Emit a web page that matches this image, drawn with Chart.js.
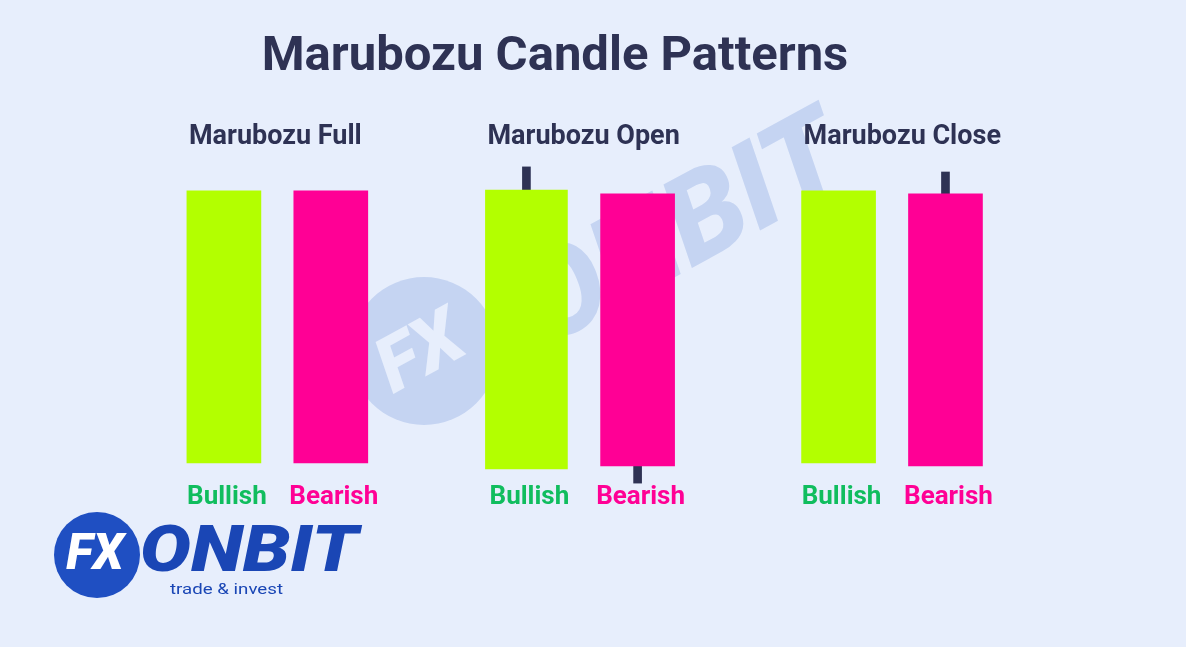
<!DOCTYPE html>
<html>
<head>
<meta charset="utf-8">
<script src="https://cdn.jsdelivr.net/npm/chart.js@4"></script>
<style>
  html, body { margin: 0; padding: 0; background: #e7eefc; }
  #wrap { width: 1186px; height: 647px; position: relative; }
</style>
</head>
<body>
<div id="wrap"><canvas id="candlec"></canvas></div>
<script>
// Data

var candleNames = ["Full Bullish", "Full Bearish", "Open Bullish", "Open Bearish", "Close Bullish", "Close Bearish"];
var candleLabels = ["Bullish", "Bearish", "Bullish", "Bearish", "Bullish", "Bearish"];
var groupTitles = ["Marubozu Full", "Marubozu Open", "Marubozu Close"];
var positions = [1, 2, 3.83, 4.87, 6.75, 7.75];
var opens  = [9, 99.7, 7, 98.7, 9, 98.7];
var highs  = [99.7, 99.7, 107.7, 98.7, 99.7, 106];
var lows   = [9, 9, 7, 2.3, 9, 8];
var closes = [99.7, 9, 100, 8, 99.7, 8];
var bodyWidths = [74, 74, 82, 74, 74, 74];

var bullColor = "#b3ff00";
var bearColor = "#ff0095";
var wickColor = "#2e3254";
var textColor = "#2e3254";

// Datasets

var datasets = [];

candleNames.forEach(function(name, i) {
	var top = Math.max(opens[i], closes[i]);
	var bottom = Math.min(opens[i], closes[i]);
	var wicks = [];
	if (highs[i] > top) wicks.push({x: positions[i], y: [top, highs[i]]});
	if (lows[i] < bottom) wicks.push({x: positions[i], y: [lows[i], bottom]});
	if (wicks.length) {
		datasets.push({
			label: name + " wick",
			data: wicks,
			backgroundColor: wickColor,
			barThickness: 8,
			order: 2
		});
	}
	datasets.push({
		label: name,
		data: [{x: positions[i], y: [bottom, top]}],
		backgroundColor: closes[i] >= opens[i] ? bullColor : bearColor,
		barThickness: bodyWidths[i],
		order: 1
	});
});

// fit a text into a given width
function fitText(ctx, text, x, y, width) {
	var w = ctx.measureText(text).width;
	ctx.save();
	ctx.translate(x, y);
	ctx.scale(width / w, 1);
	ctx.fillText(text, 0, 0);
	ctx.restore();
}

// Watermark + texts

var decor = {
	id: "decor",
	beforeDatasetsDraw: function(chart) {
		var ctx = chart.ctx;
		ctx.save();
		ctx.fillStyle = "#c5d4f2";
		ctx.beginPath();
		ctx.arc(424, 351, 74, 0, Math.PI * 2);
		ctx.fill();
		ctx.translate(424, 351);
		ctx.rotate(-0.5);
		ctx.fillStyle = "#e7eefc";
		ctx.font = "italic 900 76px Roboto";
		ctx.textAlign = "center";
		ctx.textBaseline = "middle";
		ctx.fillText("FX", -4, 4);
		ctx.fillStyle = "#c5d4f2";
		ctx.textAlign = "left";
		ctx.font = "italic 900 122px Roboto";
		ctx.fillText("ONBIT", 110, 25);
		ctx.restore();
	},
	afterDatasetsDraw: function(chart) {
		var ctx = chart.ctx;
		var x = chart.scales.x;
		ctx.save();
		ctx.textAlign = "center";
		ctx.textBaseline = "middle";

		ctx.fillStyle = textColor;
		ctx.font = "bold 49px Roboto";
		ctx.fillText("Marubozu Candle Patterns", 555, 58);

		ctx.font = "bold 27px Roboto";
		ctx.textAlign = "left";
		groupTitles.forEach(function(t, g) {
			var i = g * 2;
			ctx.fillText(t, x.getPixelForValue(positions[i]) - bodyWidths[i] / 2 + 2, 137);
		});

		ctx.textAlign = "center";
		ctx.font = "bold 26px Roboto";
		candleLabels.forEach(function(t, i) {
			ctx.fillStyle = closes[i] >= opens[i] ? "#10bd5e" : bearColor;
			ctx.fillText(t, x.getPixelForValue(positions[i]) + 3, 497);
		});

		// logo
		ctx.fillStyle = "#1f4fc2";
		ctx.beginPath();
		ctx.arc(97, 555, 43, 0, Math.PI * 2);
		ctx.fill();
		ctx.fillStyle = "#ffffff";
		ctx.font = "italic 900 50px Roboto";
		ctx.fillText("FX", 95, 556);
		ctx.fillStyle = "#1a46b5";
		ctx.textAlign = "left";
		ctx.font = "italic 900 64px Roboto";
		fitText(ctx, "ONBIT", 140, 555, 218);
		ctx.font = "15px Roboto";
		fitText(ctx, "trade & invest", 170, 590, 113);
		ctx.restore();
	}
};

new Chart("candlec", {
	type: "bar",
	data: {datasets: datasets},
	options: {
		responsive: true,
		maintainAspectRatio: false,
		animation: false,
		layout: {padding: {top: 160, bottom: 157, left: 117, right: 0}},
		datasets: {bar: {grouped: false}},
		plugins: {legend: {display: false}, tooltip: {enabled: false}},
		scales: {
			x: {type: "linear", min: 0, max: 10, offset: false, display: false},
			y: {min: 0, max: 110, display: false}
		}
	},
	plugins: [decor]
});
</script>
</body>
</html>
